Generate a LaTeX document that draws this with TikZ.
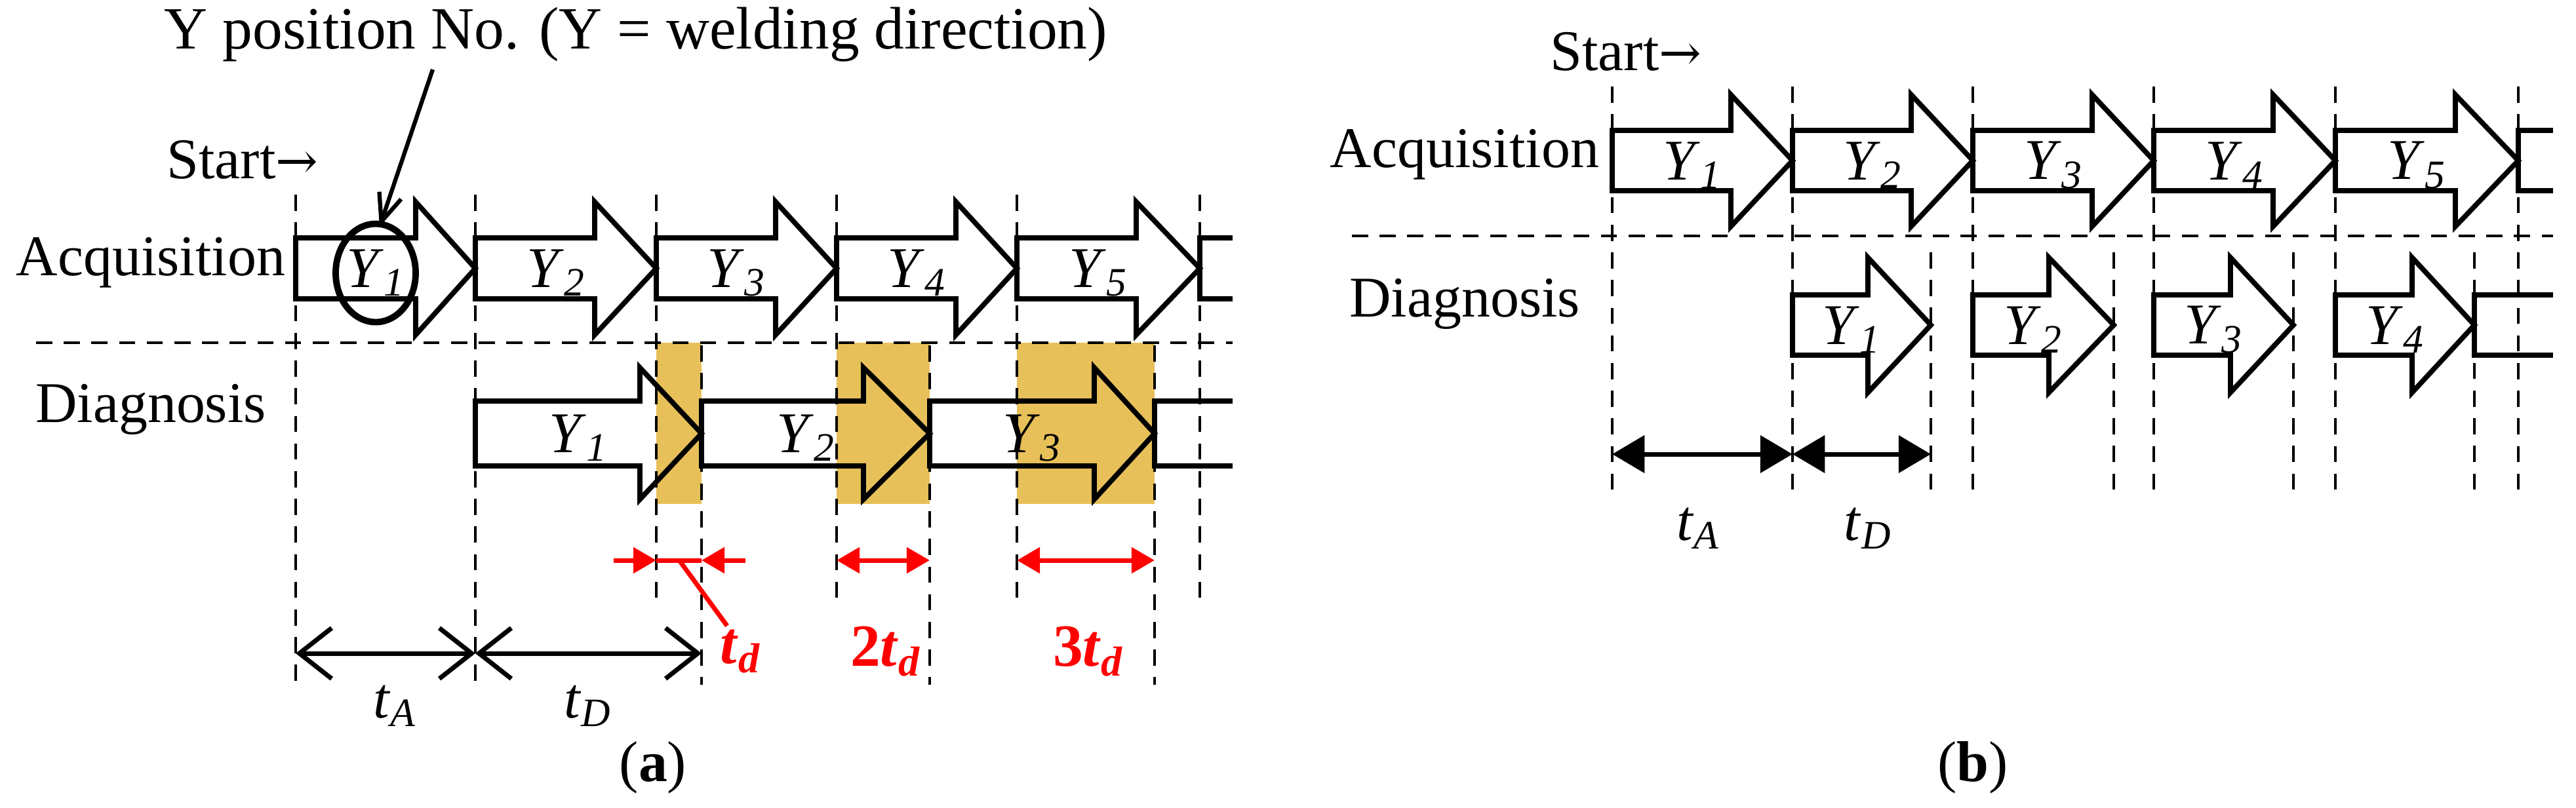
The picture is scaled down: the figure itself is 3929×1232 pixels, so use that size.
\documentclass[tikz,border=0pt]{standalone}
\usepackage{fontspec}
\setmainfont{Liberation Serif}
\newfontfamily\arrowfont{DejaVu Serif}
\usetikzlibrary{
  arrows.meta,
  shapes.geometric,
}
\definecolor{gold}{RGB}{231,192,90}
\definecolor{tdred}{RGB}{255,0,0}
% #1 name, #2 start, #3 head base, #4 tip, #5 mid y, #6 half body, #7 half head, #8 index
\newcommand{\yarrow}[8]{
  \draw[blk] (#2,#5-#6) -- (#3,#5-#6) -- (#3,#5-#7) -- (#4,#5)
    -- (#3,#5+#7) -- (#3,#5+#6) -- (#2,#5+#6) -- cycle;
  \node[ylab] (#1) at ({(#2+#4)/2-15},#5) {\textit{Y}\textsubscript{\textit{#8}}};
}
\newcommand{\tsub}[2]{\textit{#1}\textsubscript{\textit{#2}}}
\newcommand{\startlab}{Start{\arrowfont\fontsize{22}{26}\selectfont →}}
\tikzset{
  font=\fontsize{25}{29}\selectfont,
  x=0.01cm, y=-0.01cm,
  blk/.style={line width=2.2pt, line join=miter},
  sep/.style={dashed, line width=1.3pt, dash pattern=on 7pt off 5pt},
  ylab/.style={font=\fontsize{25}{29}\selectfont, yshift=-2pt},
  dimline/.style={line width=2pt},
  reddim/.style={line width=2pt, tdred, {Triangle[length=10pt,width=11pt]}-{Triangle[length=10pt,width=11pt]}},
}
\begin{document}
\begin{tikzpicture}
\useasboundingbox (0,0) rectangle (3929,1232);
% ---------------- (a)
\fill[gold] (1001,523) rectangle (1070,769);
\fill[gold] (1276,523) rectangle (1418,769);
\fill[gold] (1551,523) rectangle (1761,769);
\foreach \x in {451,725} \draw[sep] (\x,297) -- (\x,1053);
\foreach \x in {1001,1276,1551,1830} \draw[sep] (\x,297) -- (\x,912);
\foreach \x in {1070,1418,1761} \draw[sep] (\x,527) -- (\x,1045);
\draw[sep] (55,523) -- (1880,523);
\yarrow{a1}{451}{634}{725}{409.5}{46.5}{101.5}{1}
\yarrow{a2}{725}{907}{1001}{409.5}{46.5}{101.5}{2}
\yarrow{a3}{1001}{1183}{1276}{409.5}{46.5}{101.5}{3}
\yarrow{a4}{1276}{1458}{1551}{409.5}{46.5}{101.5}{4}
\yarrow{a5}{1551}{1733}{1830}{409.5}{46.5}{101.5}{5}
\draw[blk] (1880,363) -- (1830,363) -- (1830,456) -- (1880,456);
\yarrow{d1}{725}{976}{1070}{661.5}{49.5}{100.5}{1}
\yarrow{d2}{1070}{1317}{1418}{661.5}{49.5}{100.5}{2}
\yarrow{d3}{1418}{1669}{1761}{661.5}{49.5}{100.5}{3}
\draw[blk] (1880,612) -- (1761,612) -- (1761,711) -- (1880,711);
\node (acqA) at (230,401) {Acquisition};
\node (diaA) at (230,625) {Diagnosis};
\node (startA) at (370,244) {\startlab};
\node[font=\fontsize{26}{30}\selectfont] (title) at (970,53) {Y position No. (Y = welding direction)};
\draw[line width=2.8pt] (a1) ellipse (61 and 75);
\coordinate (ringtop) at (579,346);
\draw[line width=1.8pt, -{Straight Barb[length=12pt,width=10pt]}] (660,106) -- (ringtop);
% dimensions
\coordinate (dA0) at (451,997); \coordinate (dA1) at (725,997); \coordinate (dA2) at (1070,997);
\draw[dimline, {Straight Barb[length=14pt,width=22pt]}-{Straight Barb[length=14pt,width=22pt]}] (dA0) -- (dA1);
\draw[dimline, {Straight Barb[length=14pt,width=22pt]}-{Straight Barb[length=14pt,width=22pt]}] (dA1) -- (dA2);
\node (tA) at (602,1077) {\tsub{t}{A}};
\node (tD) at (897,1077) {\tsub{t}{D}};
\coordinate (r0) at (936,855); \coordinate (r1) at (1001,855);
\coordinate (r2) at (1070,855); \coordinate (r3) at (1137,855);
\draw[line width=2pt, tdred, -{Triangle[length=10pt,width=11pt]}] (r0) -- (r1);
\draw[line width=2pt, tdred, -{Triangle[length=10pt,width=11pt]}] (r3) -- (r2);
\draw[line width=2pt, tdred] (r1) -- (r2);
\draw[line width=2pt, tdred] (1036,855) -- (1109,955);
\draw[reddim] (1276,855) -- (1418,855);
\draw[reddim] (1551,855) -- (1761,855);
\node[tdred, font=\fontsize{26}{30}\selectfont\bfseries] (td1) at (1130,994) {\tsub{t}{d}};
\node[tdred, font=\fontsize{26}{30}\selectfont\bfseries] (td2) at (1351,994) {2\tsub{t}{d}};
\node[tdred, font=\fontsize{26}{30}\selectfont\bfseries] (td3) at (1660,994) {3\tsub{t}{d}};
\node (capA) at (996,1171) {(\textbf{a})};
% ---------------- (b)
\foreach \x in {2459,2734,3009,3285,3562,3841} \draw[sep] (\x,132) -- (\x,747);
\foreach \x in {2945,3224,3498,3774} \draw[sep] (\x,385) -- (\x,762);
\draw[sep] (2062,360) -- (3894,360);
\yarrow{b1}{2459}{2640}{2734}{245}{46}{100.5}{1}
\yarrow{b2}{2734}{2915}{3009}{245}{46}{100.5}{2}
\yarrow{b3}{3009}{3191}{3285}{245}{46}{100.5}{3}
\yarrow{b4}{3285}{3467}{3562}{245}{46}{100.5}{4}
\yarrow{b5}{3562}{3745}{3841}{245}{46}{100.5}{5}
\draw[blk] (3894,199) -- (3841,199) -- (3841,291) -- (3894,291);
\yarrow{e1}{2734}{2849}{2945}{496}{46}{103}{1}
\yarrow{e2}{3009}{3125}{3224}{496}{46}{103}{2}
\yarrow{e3}{3285}{3402}{3498}{496}{46}{103}{3}
\yarrow{e4}{3562}{3679}{3774}{496}{46}{103}{4}
\draw[blk] (3894,450) -- (3774,450) -- (3774,542) -- (3894,542);
\node (acqB) at (2234,236) {Acquisition};
\node (diaB) at (2234,464) {Diagnosis};
\node (startB) at (2480,79) {\startlab};
\coordinate (dB0) at (2459,693); \coordinate (dB1) at (2734,693); \coordinate (dB2) at (2945,693);
\draw[dimline, {Triangle[length=14pt,width=16pt]}-{Triangle[length=14pt,width=16pt]}] (dB0) -- (dB1);
\draw[dimline, {Triangle[length=14pt,width=16pt]}-{Triangle[length=14pt,width=16pt]}] (dB1) -- (dB2);
\node (tAb) at (2590,806) {\tsub{t}{A}};
\node (tDb) at (2849,806) {\tsub{t}{D}};
\node (capB) at (3009,1171) {(\textbf{b})};
\end{tikzpicture}
\end{document}
